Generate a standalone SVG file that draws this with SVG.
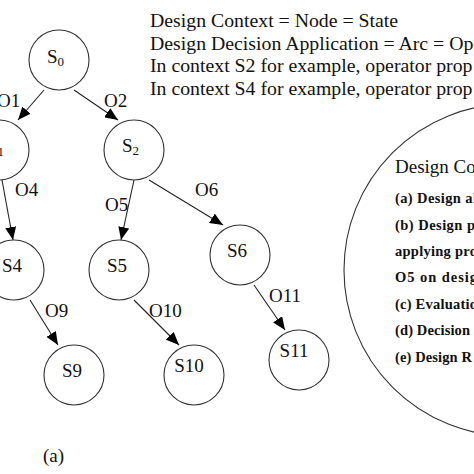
<svg xmlns="http://www.w3.org/2000/svg" width="474" height="474" viewBox="0 0 474 474">
<style>
.n{fill:#fff;stroke:#333;stroke-width:1.1}
.t{font-family:"Liberation Serif","Times New Roman",serif;font-size:19px;fill:#111}
.h{font-family:"Liberation Serif","Times New Roman",serif;font-size:19.8px;fill:#111}
.b{font-family:"Liberation Serif","Times New Roman",serif;font-size:14.5px;font-weight:bold;fill:#111}
.e{stroke:#222;stroke-width:1.1;fill:none;marker-end:url(#ah)}
</style>
<defs>
<marker id="ah" viewBox="0 0 13 11" refX="13" refY="5.5" markerWidth="13" markerHeight="11" markerUnits="userSpaceOnUse" orient="auto">
<path d="M0,0 L13,5.5 L0,11 z" fill="#000"/>
</marker>
</defs>
<rect width="474" height="474" fill="#fff"/>
<g id="legend">
<text class="h" x="150" y="27">Design Context = Node = State</text>
<text class="h" x="150" y="49.5">Design Decision Application = Arc = Op</text>
<text class="h" x="150" y="72">In context S2 for example, operator prop</text>
<text class="h" x="150" y="94.5">In context S4 for example, operator prop</text>
</g>
<g id="context-circle">
<circle class="n" cx="510" cy="270" r="166" fill="none"/>
<text class="t" x="395" y="173">Design Co</text>
<text class="b" x="395" y="203" textLength="82" lengthAdjust="spacing">(a) Design al</text>
<text class="b" x="395" y="229.5" textLength="80" lengthAdjust="spacing">(b) Design p</text>
<text class="b" x="395" y="256" textLength="82" lengthAdjust="spacing">applying pro</text>
<text class="b" x="395" y="282" textLength="82" lengthAdjust="spacing">O5 on desig</text>
<text class="b" x="395" y="308.5" textLength="82" lengthAdjust="spacing">(c) Evaluatio</text>
<text class="b" x="395" y="335" textLength="75" lengthAdjust="spacing">(d) Decision</text>
<text class="b" x="395" y="361.5" textLength="77" lengthAdjust="spacing">(e) Design R</text>
</g>
<g id="connectors">
<line class="e" x1="44" y1="90" x2="18" y2="120"/>
<line class="e" x1="74" y1="90" x2="118" y2="120"/>
<line class="e" x1="2" y1="180" x2="13" y2="240"/>
<line class="e" x1="134" y1="180" x2="121" y2="240"/>
<line class="e" x1="149" y1="180" x2="223" y2="225"/>
<line class="e" x1="30" y1="300" x2="58" y2="345"/>
<line class="e" x1="134" y1="300" x2="179" y2="345"/>
<line class="e" x1="254" y1="285" x2="285" y2="330"/>
<text class="t" x="-3" y="107">O1</text>
<text class="t" x="104" y="107">O2</text>
<text class="t" x="15" y="196">O4</text>
<text class="t" x="105" y="211">O5</text>
<text class="t" x="195" y="196">O6</text>
<text class="t" x="45" y="317">O9</text>
<text class="t" x="149" y="317">O10</text>
<text class="t" x="269" y="302">O11</text>
</g>
<g id="S0"><circle class="n" cx="59" cy="60" r="30"/><text class="t" x="47" y="63">S<tspan font-size="13" dy="3">0</tspan></text></g>
<g id="S1"><circle class="n" cx="-1" cy="150" r="30"/><text class="t" x="-13" y="153">S<tspan font-size="13" dy="3">1</tspan></text></g>
<g id="S2"><circle class="n" cx="134" cy="150" r="30"/><text class="t" x="122" y="152">S<tspan font-size="13" dy="3">2</tspan></text></g>
<g id="S4"><circle class="n" cx="14" cy="270" r="30"/><text class="t" x="12" y="272" text-anchor="middle">S4</text></g>
<g id="S5"><circle class="n" cx="119" cy="270" r="30"/><text class="t" x="117" y="272" text-anchor="middle">S5</text></g>
<g id="S6"><circle class="n" cx="240" cy="255" r="30"/><text class="t" x="237" y="257" text-anchor="middle">S6</text></g>
<g id="S9"><circle class="n" cx="74" cy="375" r="30"/><text class="t" x="72" y="377" text-anchor="middle">S9</text></g>
<g id="S10"><circle class="n" cx="194" cy="375" r="30"/><text class="t" x="189" y="372" text-anchor="middle">S10</text></g>
<g id="S11"><circle class="n" cx="299" cy="360" r="30"/><text class="t" x="294" y="357" text-anchor="middle">S11</text></g>
<g id="caption"><text class="t" x="43" y="462" font-size="17">(a)</text></g>
</svg>
